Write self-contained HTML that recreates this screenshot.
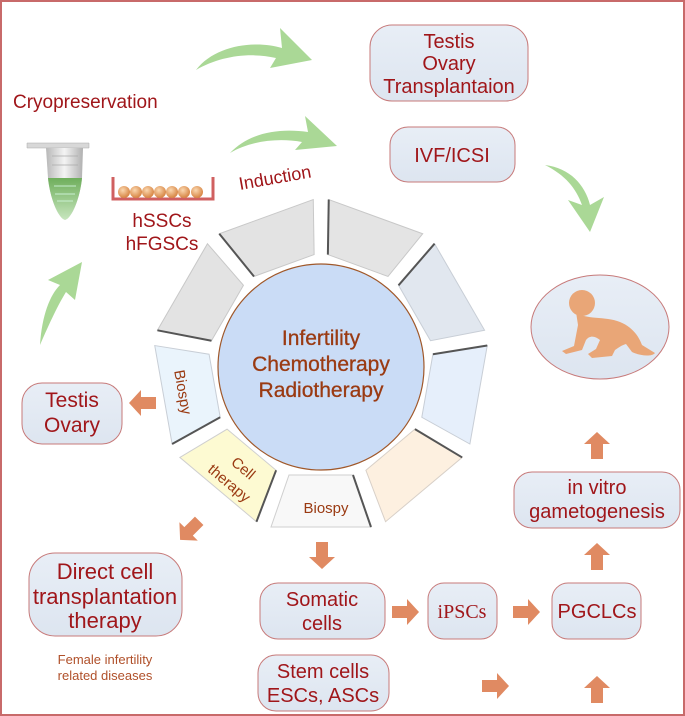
<!DOCTYPE html>
<html><head><meta charset="utf-8"><style>
html,body{margin:0;padding:0;background:#fff}
svg{display:block}
text{font-family:"Liberation Sans",sans-serif;fill:#a0161a}
</style></head><body>
<svg width="685" height="716" viewBox="0 0 685 716" xmlns="http://www.w3.org/2000/svg">
<defs>
<linearGradient id="gb" x1="0" y1="0" x2="0" y2="1"><stop offset="0" stop-color="#e8eef6"/><stop offset="1" stop-color="#dde5f0"/></linearGradient>
<linearGradient id="tube" x1="0" y1="0" x2="1" y2="0"><stop offset="0" stop-color="#b8b8b8"/><stop offset=".5" stop-color="#f4f4f4"/><stop offset="1" stop-color="#b0b0b0"/></linearGradient>
<linearGradient id="tg" x1="0" y1="0" x2="0" y2="1"><stop offset="0" stop-color="#6fae5c"/><stop offset="1" stop-color="#c8e6bf"/></linearGradient>
<radialGradient id="ball" cx=".4" cy=".35" r=".6"><stop offset="0" stop-color="#fbd8b0"/><stop offset="1" stop-color="#d98a4a"/></radialGradient>
<g id="oarr"><polygon points="-13,-6 2,-6 2,-13 14,0 2,13 2,6 -13,6" fill="#e08a62"/></g>
<g id="seg"><polygon points="-32,108 32,108 50,160 -50,160" stroke-width="1.2"/></g>
</defs>
<rect x="1" y="1" width="683" height="714" fill="#fff" stroke="#c86a6a" stroke-width="2"/>

<!-- ring segments -->
<g transform="translate(321,367)">
 <g transform="rotate(0)"><polygon points="-32,108 32,108 50,160 -50,160" fill="#f8f8f8" stroke="#cfcfcf"/><line x1="32" y1="108" x2="50" y2="160" stroke="#555" stroke-width="2"/></g>
 <g transform="rotate(40)"><polygon points="-32,108 32,108 50,160 -50,160" fill="#fdfad2" stroke="#cfcfcf"/><line x1="32" y1="108" x2="50" y2="160" stroke="#555" stroke-width="2"/></g>
 <g transform="rotate(80)"><polygon points="-32,108 32,108 50,160 -50,160" fill="#eaf4fc" stroke="#c8ced6"/><line x1="32" y1="108" x2="50" y2="160" stroke="#555" stroke-width="2"/></g>
 <g transform="rotate(120)"><polygon points="-32,108 32,108 50,160 -50,160" fill="#e3e3e3" stroke="#c8c8c8"/><line x1="32" y1="108" x2="50" y2="160" stroke="#555" stroke-width="2"/></g>
 <g transform="rotate(160)"><polygon points="-32,108 32,108 50,160 -50,160" fill="#e3e3e3" stroke="#c8c8c8"/><line x1="32" y1="108" x2="50" y2="160" stroke="#555" stroke-width="2"/></g>
 <g transform="rotate(200)"><polygon points="-32,108 32,108 50,160 -50,160" fill="#e4e4e4" stroke="#c8c8c8"/><line x1="32" y1="108" x2="50" y2="160" stroke="#555" stroke-width="2"/></g>
 <g transform="rotate(240)"><polygon points="-32,108 32,108 50,160 -50,160" fill="#e1e7ef" stroke="#c8ced6"/><line x1="32" y1="108" x2="50" y2="160" stroke="#555" stroke-width="2"/></g>
 <g transform="rotate(280)"><polygon points="-32,108 32,108 50,160 -50,160" fill="#e6effb" stroke="#c8ced6"/><line x1="32" y1="108" x2="50" y2="160" stroke="#555" stroke-width="2"/></g>
 <g transform="rotate(320)"><polygon points="-32,108 32,108 50,160 -50,160" fill="#fdf0e0" stroke="#d8d0c8"/><line x1="32" y1="108" x2="50" y2="160" stroke="#555" stroke-width="2"/></g>
</g>
<circle cx="321" cy="367" r="103" fill="#cadcf6" stroke="#a0582a" stroke-width="1.2"/>
<g font-size="21" text-anchor="middle" style="fill:#9a3a12" stroke="#9a3a12" stroke-width=".3">
<text x="321" y="345" style="fill:#9a3a12">Infertility</text>
<text x="321" y="371" style="fill:#9a3a12">Chemotherapy</text>
<text x="321" y="397" style="fill:#9a3a12">Radiotherapy</text>
</g>
<text x="326" y="513" font-size="15" text-anchor="middle" style="fill:#9a3a12">Biospy</text>
<text transform="translate(178,393) rotate(80)" font-size="15" text-anchor="middle" style="fill:#9a3a12">Biospy</text>
<text transform="translate(240,472) rotate(40)" font-size="15" text-anchor="middle" style="fill:#9a3a12">Cell</text>
<text transform="translate(226,487) rotate(40)" font-size="15" text-anchor="middle" style="fill:#9a3a12">therapy</text>

<!-- boxes -->
<g stroke="#c77a7a" stroke-width="1" fill="url(#gb)">
<rect x="370" y="25" width="158" height="76" rx="22"/>
<rect x="390" y="127" width="125" height="55" rx="18"/>
<rect x="22" y="383" width="100" height="61" rx="20"/>
<rect x="29" y="553" width="153" height="83" rx="26"/>
<rect x="260" y="583" width="125" height="56" rx="18"/>
<rect x="428" y="583" width="69" height="56" rx="16"/>
<rect x="552" y="583" width="89" height="56" rx="16"/>
<rect x="514" y="472" width="166" height="56" rx="18"/>
<rect x="258" y="655" width="131" height="56" rx="18"/>
<ellipse cx="600" cy="327" rx="69" ry="52"/>
</g>
<g font-size="20" text-anchor="middle">
<text x="449" y="48">Testis</text><text x="449" y="70">Ovary</text><text x="449" y="93">Transplantaion</text>
<text x="452" y="162">IVF/ICSI</text>
<text x="72" y="407" font-size="21">Testis</text><text x="72" y="432" font-size="21">Ovary</text>
<text x="105" y="579" font-size="22">Direct cell</text><text x="105" y="604" font-size="22">transplantation</text><text x="105" y="628" font-size="22">therapy</text>
<text x="322" y="606">Somatic</text><text x="322" y="630">cells</text>
<text x="462" y="618" style="font-family:'Liberation Serif',serif">iPSCs</text>
<text x="597" y="618">PGCLCs</text>
<text x="597" y="494">in vitro</text><text x="597" y="518">gametogenesis</text>
<text x="323" y="678">Stem cells</text><text x="323" y="702">ESCs, ASCs</text>
</g>
<text x="105" y="664" font-size="13" text-anchor="middle" style="fill:#b0502a">Female infertility</text>
<text x="105" y="680" font-size="13" text-anchor="middle" style="fill:#b0502a">related diseases</text>

<!-- baby -->
<g fill="#e9a677">
<circle cx="582" cy="303" r="13"/>
<path d="M576,312 C585,320 605,316 620,322 C635,328 640,340 642,345 L655,353 C652,357 640,356 632,352 L626,344 C622,345 618,348 615,350 L612,356 L592,358 L588,354 L596,349 L600,340 C595,336 590,335 586,340 L582,350 L566,354 L562,351 L574,346 L578,325 Z"/>
</g>

<!-- text labels top-left -->
<text x="13" y="108" font-size="19">Cryopreservation</text>
<text x="162" y="227" font-size="19" text-anchor="middle">hSSCs</text>
<text x="162" y="250" font-size="19" text-anchor="middle">hFGSCs</text>
<text transform="translate(240,190) rotate(-10)" font-size="18">Induction</text>

<!-- tube -->
<path d="M27,143 L89,143 L89,148 L27,148 Z" fill="#d8d8d8" stroke="#aaa" stroke-width=".5"/>
<path d="M46,148 L83,148 L82,178 C80,198 72,218 65,220 C58,218 50,198 48,178 Z" fill="url(#tube)"/>
<g stroke="#aaa" stroke-width=".7"><line x1="52" y1="156" x2="78" y2="156"/><line x1="52" y1="165" x2="78" y2="165"/></g>
<path d="M48,178 L82,178 C80,198 72,218 65,220 C58,218 50,198 48,178 Z" fill="url(#tg)"/>
<g stroke="#dfe" stroke-width=".7"><line x1="54" y1="186" x2="76" y2="186"/><line x1="55" y1="194" x2="75" y2="194"/><line x1="57" y1="201" x2="73" y2="201"/></g>
<!-- dish -->
<path d="M113,177 L113,199 L213,199 L213,177" fill="none" stroke="#d06060" stroke-width="3"/>
<g fill="url(#ball)"><circle cx="124" cy="192" r="6"/><circle cx="136" cy="192" r="6"/><circle cx="148" cy="192" r="6"/><circle cx="160" cy="192" r="6"/><circle cx="172" cy="192" r="6"/><circle cx="184" cy="192" r="6"/><circle cx="197" cy="192" r="6"/></g>

<!-- green arrows -->
<g fill="#aad896">
<path d="M196,70 C215,45 255,40 282,48 L280,28 L312,60 L270,68 L276,58 C250,52 220,56 196,70 Z"/>
<path d="M230,153 C250,132 280,128 308,132 L305,116 L337,146 L295,150 L302,142 C280,138 252,140 230,153 Z"/>
<path d="M545,165 C570,168 585,185 590,205 L604,197 L590,232 L568,200 L582,205 C576,188 565,175 545,165 Z"/>
<path d="M40,345 C42,315 50,295 60,285 L48,280 L82,262 L75,300 L66,292 C58,305 50,322 40,345 Z"/>
</g>

<!-- orange arrows -->
<use href="#oarr" transform="translate(143,403) rotate(180)"/>
<use href="#oarr" transform="translate(190,530) rotate(135)"/>
<use href="#oarr" transform="translate(322,555) rotate(90)"/>
<use href="#oarr" transform="translate(405,612)"/>
<use href="#oarr" transform="translate(526,612)"/>
<use href="#oarr" transform="translate(495,686)"/>
<use href="#oarr" transform="translate(597,690) rotate(-90)"/>
<use href="#oarr" transform="translate(597,557) rotate(-90)"/>
<use href="#oarr" transform="translate(597,446) rotate(-90)"/>
</svg>
</body></html>
